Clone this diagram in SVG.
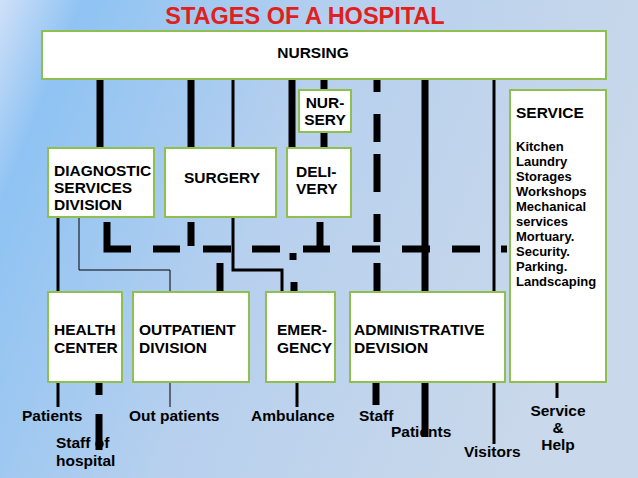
<svg xmlns="http://www.w3.org/2000/svg" width="638" height="478" viewBox="0 0 638 478">
<defs>
<linearGradient id="bg" x1="0" y1="0" x2="1" y2="0.3">
<stop offset="0" stop-color="#cfe0f8"/>
<stop offset="0.12" stop-color="#8fc3f3"/>
<stop offset="0.5" stop-color="#b7d0ee"/>
<stop offset="1" stop-color="#c9d8ea"/>
</linearGradient>
<style>
.box{fill:#fff;stroke:#8fbf4f;stroke-width:2}
.t{font-family:"Liberation Sans",Arial,sans-serif;font-weight:bold;font-size:15.5px;fill:#000}
.s{font-size:13px}
.k{stroke:#000;fill:none}
.th{stroke-width:7}
.md{stroke-width:3}
.tn{stroke-width:1}
</style>
</defs>
<rect width="638" height="478" fill="url(#bg)"/>
<text x="305" y="24" text-anchor="middle" font-family="Liberation Sans,Arial,sans-serif" font-weight="bold" font-size="23.5" fill="#e0201c">STAGES OF A HOSPITAL</text>
<g id="connectors" class="k">
<line class="th" x1="100" y1="79" x2="100" y2="148"/>
<line class="th" x1="191" y1="79" x2="191" y2="148"/>
<line class="md" x1="233" y1="79" x2="233" y2="148"/>
<line class="th" x1="292" y1="79" x2="292" y2="148"/>
<line class="th" x1="324" y1="79" x2="324" y2="90"/>
<line class="th" x1="324" y1="132" x2="324" y2="148"/>
<path class="th" d="M377 80V92M377 114V142M377 154V192M377 214V242M377 263V292"/>
<line class="th" x1="425" y1="79" x2="425" y2="292"/>
<line class="md" x1="494" y1="79" x2="494" y2="292"/>
<path class="th" d="M107 222V249H131M153 249H180M191 222V246M203 249H231M252 249H280M303 249H330M320 222V249M352 249H380M402 249H430M452 249H480M501 249H507M293 253V260M220 263V292M294 282V291"/>
<path class="tn" d="M79 217V270H170V292"/>
<path class="md" d="M233 217V270H282V292" stroke-width="2"/>
<line class="md" x1="58" y1="217" x2="58" y2="292"/>
<line class="md" x1="58" y1="382" x2="58" y2="407"/>
<path class="th" d="M99 382V395M99 414V450"/>
<line class="tn" x1="170" y1="382" x2="170" y2="407"/>
<line class="md" x1="297" y1="382" x2="297" y2="407"/>
<line class="th" x1="376" y1="382" x2="376" y2="405"/>
<line class="th" x1="425" y1="382" x2="425" y2="437"/>
<line class="md" x1="494" y1="382" x2="494" y2="444"/>
<line class="md" x1="557" y1="382" x2="557" y2="398"/>
</g>
<g id="nursing"><rect class="box" x="42" y="31" width="564" height="48"/><text class="t" x="313" y="58" text-anchor="middle">NURSING</text></g>
<g id="nursery"><rect class="box" x="299" y="90" width="52" height="42"/><text class="t" x="325" y="108" text-anchor="middle">NUR-</text><text class="t" x="325" y="125" text-anchor="middle">SERY</text></g>
<g id="service"><rect class="box" x="510" y="90" width="96" height="292"/>
<text class="t" x="516" y="118">SERVICE</text>
<text class="t s" x="516" y="151">Kitchen</text><text class="t s" x="516" y="166">Laundry</text><text class="t s" x="516" y="181">Storages</text><text class="t s" x="516" y="196">Workshops</text><text class="t s" x="516" y="211">Mechanical</text><text class="t s" x="516" y="226">services</text><text class="t s" x="516" y="241">Mortuary.</text><text class="t s" x="516" y="256">Security.</text><text class="t s" x="516" y="271">Parking.</text><text class="t s" x="516" y="286">Landscaping</text></g>
<g id="diagnostic"><rect class="box" x="48" y="148" width="106" height="69"/><text class="t" x="54" y="176">DIAGNOSTIC</text><text class="t" x="54" y="193">SERVICES</text><text class="t" x="54" y="210">DIVISION</text></g>
<g id="surgery"><rect class="box" x="165" y="148" width="111" height="69"/><text class="t" x="222" y="183" text-anchor="middle">SURGERY</text></g>
<g id="delivery"><rect class="box" x="287" y="148" width="64" height="69"/><text class="t" x="296" y="177">DELI-</text><text class="t" x="296" y="194">VERY</text></g>
<g id="health"><rect class="box" x="48" y="292" width="74" height="90"/><text class="t" x="54" y="335">HEALTH</text><text class="t" x="54" y="353">CENTER</text></g>
<g id="outpatient"><rect class="box" x="133" y="292" width="116" height="90"/><text class="t" x="139" y="335">OUTPATIENT</text><text class="t" x="139" y="353">DIVISION</text></g>
<g id="emergency"><rect class="box" x="266" y="292" width="69" height="90"/><text class="t" x="277" y="335">EMER-</text><text class="t" x="277" y="353">GENCY</text></g>
<g id="admin"><rect class="box" x="350" y="292" width="155" height="90"/><text class="t" x="354" y="335">ADMINISTRATIVE</text><text class="t" x="354" y="353">DEVISION</text></g>
<g id="labels">
<text class="t" x="22" y="421">Patients</text>
<text class="t" x="56" y="448">Staff of</text><text class="t" x="56" y="466">hospital</text>
<text class="t" x="129" y="421">Out patients</text>
<text class="t" x="251" y="421">Ambulance</text>
<text class="t" x="359" y="421">Staff</text>
<text class="t" x="391" y="437">Patients</text>
<text class="t" x="464" y="457">Visitors</text>
<text class="t" x="558" y="416" text-anchor="middle">Service</text><text class="t" x="558" y="433" text-anchor="middle">&amp;</text><text class="t" x="558" y="450" text-anchor="middle">Help</text>
</g>
</svg>
